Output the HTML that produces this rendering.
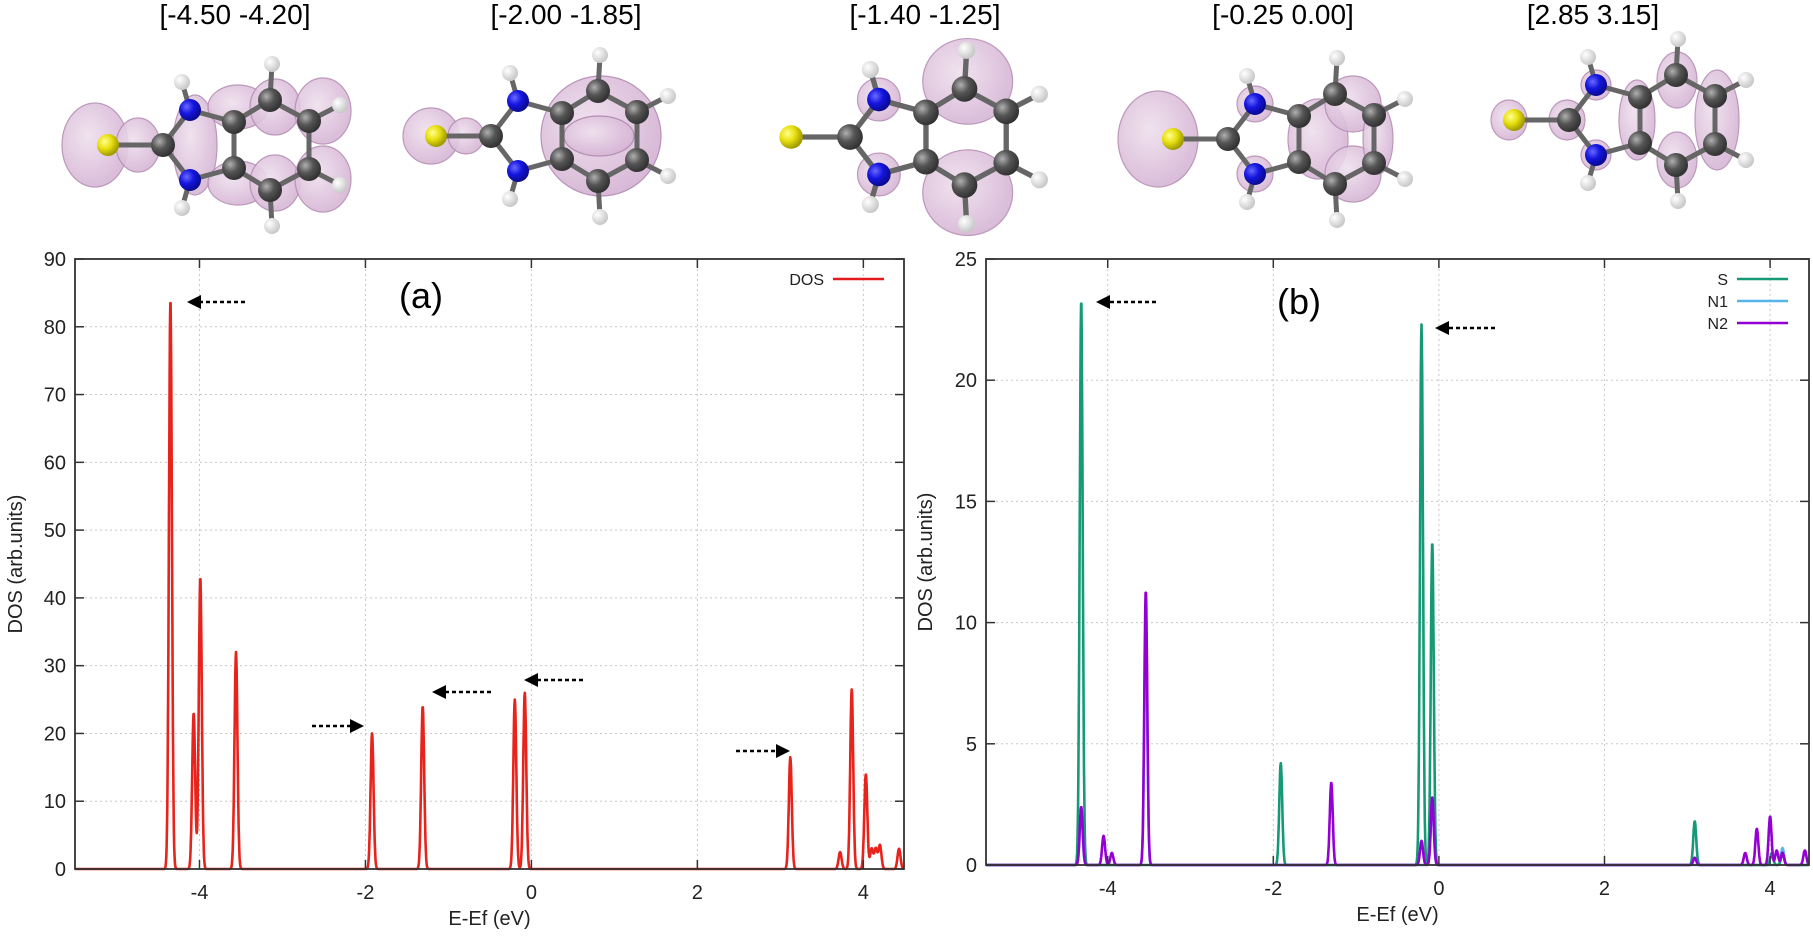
<!DOCTYPE html>
<html><head><meta charset="utf-8">
<style>
html,body{margin:0;padding:0;background:#fff;}
svg{display:block;font-family:"Liberation Sans",sans-serif;}
</style></head>
<body>
<svg id="s" width="1813" height="942" viewBox="0 0 1813 942" xmlns="http://www.w3.org/2000/svg">
<defs>
<radialGradient id="gC" cx="35%" cy="35%" r="65%"><stop offset="0" stop-color="#b0b0b0"/><stop offset="0.5" stop-color="#555"/><stop offset="1" stop-color="#333"/></radialGradient>
<radialGradient id="gN" cx="35%" cy="35%" r="65%"><stop offset="0" stop-color="#6a6aff"/><stop offset="0.5" stop-color="#1515e0"/><stop offset="1" stop-color="#0a0a90"/></radialGradient>
<radialGradient id="gS" cx="35%" cy="35%" r="65%"><stop offset="0" stop-color="#ffff90"/><stop offset="0.5" stop-color="#e8e010"/><stop offset="1" stop-color="#a09a00"/></radialGradient>
<radialGradient id="gH" cx="35%" cy="35%" r="65%"><stop offset="0" stop-color="#fff"/><stop offset="1" stop-color="#c8c8c8"/></radialGradient>
<radialGradient id="gB" cx="40%" cy="40%" r="70%"><stop offset="0" stop-color="#efe0ee"/><stop offset="1" stop-color="#d3b0d2"/></radialGradient>
</defs>
<g id="top" font-size="28" text-anchor="middle" fill="#000">
<text x="235" y="24">[-4.50 -4.20]</text>
<text x="566" y="24">[-2.00 -1.85]</text>
<text x="925" y="24">[-1.40 -1.25]</text>
<text x="1283" y="24">[-0.25 0.00]</text>
<text x="1593" y="24">[2.85 3.15]</text>
</g>
<g id="mols"></g>
<g id="plots"></g>
</svg>
<script>
const NS="http://www.w3.org/2000/svg";
function el(p,t,a,txt){const e=document.createElementNS(NS,t);for(const k in a)e.setAttribute(k,a[k]);if(txt!==undefined)e.textContent=txt;p.appendChild(e);return e;}
const mols=document.getElementById('mols');
// template atoms relative to C2
const A={S:[-55,0],C2:[0,0],N1:[27,-35],N2:[27,35],Ca1:[71,-23],Ca2:[71,23],Cb1:[107,-45],Cb2:[107,45],Cc1:[146,-24],Cc2:[146,24],HN1:[19,-63],HN2:[19,63],Hb1:[109,-81],Hb2:[109,81],Hc1:[177,-40],Hc2:[177,40]};
const bonds=[["S","C2"],["C2","N1"],["C2","N2"],["N1","Ca1"],["N2","Ca2"],["Ca1","Ca2"],["Ca1","Cb1"],["Ca2","Cb2"],["Cb1","Cc1"],["Cb2","Cc2"],["Cc1","Cc2"],["N1","HN1"],["N2","HN2"],["Cb1","Hb1"],["Cb2","Hb2"],["Cc1","Hc1"],["Cc2","Hc2"]];
function mol(ox,oy,sc,blobs){
 const g=el(mols,'g',{});
 const P=k=>[ox+A[k][0]*sc,oy+A[k][1]*sc];
 blobs.forEach(b=>{el(g,'ellipse',{cx:ox+b[0]*sc,cy:oy+b[1]*sc,rx:b[2]*sc,ry:b[3]*sc,fill:'url(#gB)',stroke:'#b58db3','stroke-width':1.2,opacity:b[4]||0.9});});
 bonds.forEach(([a,b])=>{const p=P(a),q=P(b);el(g,'line',{x1:p[0],y1:p[1],x2:q[0],y2:q[1],stroke:'#666','stroke-width':5*sc});});
 for(const k in A){const p=P(k);let r,f;
  if(k=='S'){r=11;f='gS';}else if(k[0]=='N'){r=11;f='gN';}else if(k[0]=='H'){r=8;f='gH';}else{r=12;f='gC';}
  el(g,'circle',{cx:p[0],cy:p[1],r:r*sc,fill:'url(#'+f+')'});}
}
mol(163,145,1.0,[[-68,0,33,42],[-25,0,22,27],[32,0,22,50],[75,-38,30,22],[75,38,30,22],[112,-38,25,28],[112,38,25,28],[160,-34,28,33],[160,34,28,33]]);
mol(491,136,1.0,[[-60,0,28,28],[-25,0,18,18],[110,0,60,60,0.95],[108,0,35,20,1]]);
mol(850,137,1.07,[[27,-35,20,20],[27,35,20,20],[110,-52,42,40],[110,52,42,40]]);
mol(1228,139,1.0,[[-70,0,40,48],[27,-35,18,18],[27,35,18,18],[90,0,30,40],[125,-35,28,28],[125,35,28,28],[150,0,15,35]]);
mol(1569,120,1.0,[[-60,0,18,20],[-2,0,18,20],[27,-35,15,15],[27,35,15,15],[68,0,18,40],[108,-40,20,28],[108,40,20,28],[148,0,22,50]]);

const plots=document.getElementById('plots');
function gauss(peaks,x,s){let y=0;peaks.forEach(p=>{y+=p[1]*Math.exp(-((x-p[0])**2)/(2*s*s));});return y;}
function plot(o){
 const g=el(plots,'g',{});
 const X=v=>o.L+(v-o.x0)/(o.x1-o.x0)*(o.R-o.L);
 const Y=v=>o.B-(v)/(o.ymax)*(o.B-o.T);
 // grid
 [-4,-2,0,2,4].forEach(t=>{el(g,'line',{x1:X(t),x2:X(t),y1:o.T,y2:o.B,stroke:'#c8c8c8','stroke-width':1,'stroke-dasharray':'2,3'});});
 for(let t=o.ystep;t<o.ymax;t+=o.ystep){el(g,'line',{x1:o.L,x2:o.R,y1:Y(t),y2:Y(t),stroke:'#c8c8c8','stroke-width':1,'stroke-dasharray':'2,3'});}
 // series
 o.series.forEach(s=>{let d='';for(let x=o.x0;x<=o.x1+1e-9;x+=0.004){const y=gauss(s.p,x,0.018);d+=(d?'L':'M')+X(x).toFixed(1)+','+Y(Math.min(y,o.ymax)).toFixed(1);}
  el(g,'path',{d:d,fill:'none',stroke:s.c,'stroke-width':2.6,'stroke-linejoin':'round'});});
 // frame
 el(g,'rect',{x:o.L,y:o.T,width:o.R-o.L,height:o.B-o.T,fill:'none',stroke:'#333','stroke-width':1.8});
 [-4,-2,0,2,4].forEach(t=>{el(g,'line',{x1:X(t),x2:X(t),y1:o.B,y2:o.B-9,stroke:'#333','stroke-width':1.5});el(g,'line',{x1:X(t),x2:X(t),y1:o.T,y2:o.T+9,stroke:'#333','stroke-width':1.5});
  el(g,'text',{x:X(t),y:o.B+30,'text-anchor':'middle','font-size':20,fill:'#222'},t);});
 for(let t=0;t<=o.ymax;t+=o.ystep){el(g,'line',{x1:o.L,x2:o.L+9,y1:Y(t),y2:Y(t),stroke:'#333','stroke-width':1.5});el(g,'line',{x1:o.R,x2:o.R-9,y1:Y(t),y2:Y(t),stroke:'#333','stroke-width':1.5});
  el(g,'text',{x:o.L-9,y:Y(t)+7,'text-anchor':'end','font-size':20,fill:'#222'},t);}
 el(g,'text',{x:(o.L+o.R)/2,y:o.B+56,'text-anchor':'middle','font-size':20,fill:'#222'},'E-Ef (eV)');
 el(g,'text',{x:o.ylx,y:(o.T+o.B)/2,'text-anchor':'middle','font-size':20,fill:'#222',transform:'rotate(-90 '+o.ylx+' '+(o.T+o.B)/2+')'},'DOS (arb.units)');
 el(g,'text',{x:o.lab[0],y:o.lab[1],'text-anchor':'middle','font-size':36,fill:'#000'},o.lab[2]);
 o.leg.forEach(l=>{el(g,'text',{x:o.legx,y:l[1]+6,'text-anchor':'end','font-size':16,fill:'#222'},l[0]);el(g,'line',{x1:o.legx+9,x2:o.legx+60,y1:l[1],y2:l[1],stroke:l[2],'stroke-width':2.6});});
 o.arrows.forEach(a=>{const [x1,x2,y]=a;const dir=Math.sign(x2-x1);
  el(g,'line',{x1:x1,x2:x2-dir*12,y1:y,y2:y,stroke:'#000','stroke-width':2.5,'stroke-dasharray':'4,3'});
  el(g,'polygon',{points:`${x2},${y} ${x2-dir*14},${y-7} ${x2-dir*14},${y+7}`,fill:'#000'});});
}
plot({L:75,R:904,T:259,B:869,x0:-5.5,x1:4.49,ymax:90,ystep:10,ylx:22,lab:[421,308,'(a)'],legx:824,
 leg:[['DOS',279,'#e41a1c']],
 series:[{c:'#e8231c',p:[[-4.35,84],[-4.07,23],[-3.99,43],[-3.56,32],[-1.92,20],[-1.31,24],[-0.2,25],[-0.08,26],[3.12,16.5],[3.72,2.5],[3.86,26.5],[4.03,14],[4.1,3],[4.15,3],[4.2,3.5],[4.43,3]]}],
 arrows:[[245,187,302],[312,364,726],[491,432,692],[583,524,680],[736,790,751]]});
plot({L:986,R:1809,T:259,B:865,x0:-5.47,x1:4.47,ymax:25,ystep:5,ylx:932,lab:[1299,314,'(b)'],legx:1728,
 leg:[['S',279,'#159a75'],['N1',301,'#56b4e9'],['N2',323,'#9400d3']],
 series:[
 {c:'#56b4e9',p:[[-4.32,2.2],[-3.54,10],[-0.08,2.5],[4.15,0.7]]},
 {c:'#159a75',p:[[-4.32,23.3],[-1.91,4.2],[-0.21,22.3],[-0.08,13.3],[3.09,1.8],[4.02,0.5],[4.15,0.5]]},
 {c:'#9400d3',p:[[-4.32,2.4],[-4.05,1.2],[-3.95,0.5],[-3.54,11.3],[-1.3,3.4],[-0.21,1.0],[-0.08,2.8],[3.09,0.3],[3.7,0.5],[3.84,1.5],[4.0,2.0],[4.08,0.6],[4.15,0.5],[4.42,0.6]]}],
 arrows:[[1156,1096,302],[1495,1435,328]]});
</script>
</body></html>
